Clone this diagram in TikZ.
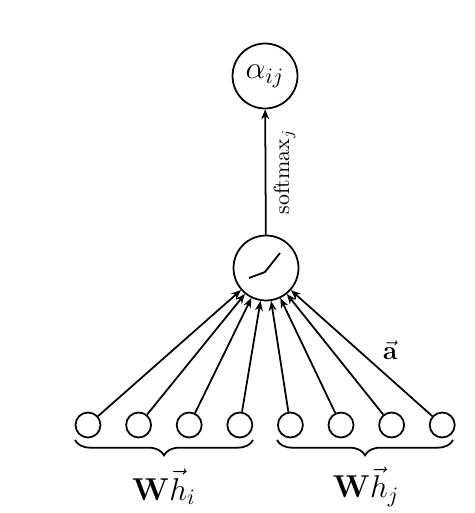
\documentclass[tikz,border=0pt]{standalone}
\usepackage{amsmath,amssymb}
\usepackage{tikz}
\usetikzlibrary{arrows,arrows.meta,positioning,calc,decorations.pathreplacing}

\begin{document}
\begin{tikzpicture}[x=0.016cm, y=-0.016cm,
  neuron/.style={draw, circle, thick, inner sep=0pt, minimum size=0.4cm},
  unit/.style={draw, circle, thick, inner sep=0pt, minimum size=1.04cm},
  edge/.style={thick, -{Stealth[length=4.5pt, width=3.6pt]}},
  grp/.style={thick, decorate, decoration={brace, mirror, amplitude=7pt}}]
\useasboundingbox (0,0) rectangle (474,513);

% Output coefficient
\node[unit] (alpha) at (265,76) {\Large $\alpha_{ij}$};

% Attention unit with activation
\node[unit] (act) at (266,268) {};
\draw[thick] ($(act)+(-17,10)$) -- ($(act)+(-1,4)$) -- ($(act)+(14,-15)$);
\draw[edge] (act) -- node[midway, rotate=90, anchor=north] {softmax$_j$} (alpha);

% Inputs
\foreach \i in {1,...,8} {
  \node[neuron] (h\i) at ({88+50.6*(\i-1)},425) {};
  \draw[edge] (h\i) -- (act);
}
\node (avec) at (390,350) {\large $\vec{\mathbf{a}}$};

% Braces
\coordinate (bl1) at (75,440);
\coordinate (bl2) at (253,440);
\coordinate (br1) at (277,440);
\coordinate (br2) at (453,440);
\draw[grp] (bl1) -- (bl2);
\draw[grp] (br1) -- (br2);
\node (whi) at (164,487) {\Large $\mathbf{W}\vec{h}_i$};
\node (whj) at (366,487) {\Large $\mathbf{W}\vec{h}_j$};
\end{tikzpicture}
\end{document}
